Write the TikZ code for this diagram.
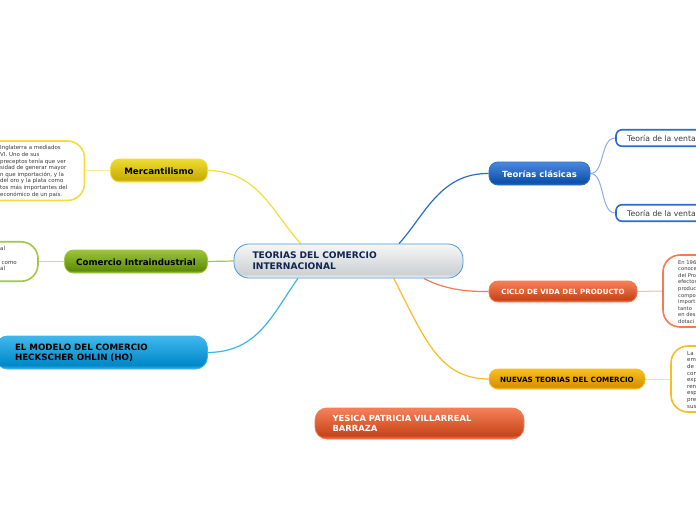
\documentclass[tikz,border=0pt]{standalone}
\usepackage{fontspec}
\setmainfont{DejaVu Sans}
\usetikzlibrary{backgrounds}
\definecolor{hubline}{HTML}{4A9AD8}
\definecolor{hubtop}{HTML}{F5F6F6}
\definecolor{hubbot}{HTML}{CDD1D3}
\definecolor{mercline}{HTML}{F0DD40}
\definecolor{merctop}{HTML}{EEDC30}
\definecolor{mercbot}{HTML}{C8AC08}
\definecolor{intraline}{HTML}{A0C840}
\definecolor{intratop}{HTML}{9CC43A}
\definecolor{intrabot}{HTML}{5F8C08}
\definecolor{holine}{HTML}{3CB4E8}
\definecolor{hotop}{HTML}{40B8EE}
\definecolor{hobot}{HTML}{0088C8}
\definecolor{claline}{HTML}{2A6CC8}
\definecolor{clatop}{HTML}{4A88E0}
\definecolor{clabot}{HTML}{0D50A8}
\definecolor{cicline}{HTML}{F87850}
\definecolor{cictop}{HTML}{F58058}
\definecolor{cicbot}{HTML}{C8441A}
\definecolor{nueline}{HTML}{FBBC20}
\definecolor{nuetop}{HTML}{F8C020}
\definecolor{nuebot}{HTML}{D89000}
\definecolor{hubtext}{HTML}{0F2550}
\definecolor{notetext}{HTML}{3A3A3A}
\newcommand{\barshade}[4]{\pgfdeclareverticalshading{#1}{100bp}{color(0bp)=(#4); color(25bp)=(#4); color(31bp)=(#3); color(68bp)=(#2!85!#3); color(75bp)=(#2); color(100bp)=(#2)}}
\barshade{hubshade}{hubtop}{hubbot}{hubtop}
\barshade{mercshade}{merctop}{mercbot}{mercline}
\barshade{intrashade}{intratop}{intrabot}{intraline}
\barshade{hoshade}{hotop}{hobot}{holine}
\barshade{clashade}{clatop}{clabot}{claline}
\barshade{cicshade}{cictop}{cicbot}{cicline}
\barshade{nueshade}{nuetop}{nuebot}{nueline}
\tikzset{
  topicbar/.style={rounded corners=9pt,line width=0.8pt,inner sep=0pt,font=\fontsize{8.7}{10}\selectfont\bfseries},
  onebar/.style={topicbar,text height=7.6pt,text depth=0pt},
  notebox/.style={rounded corners=17pt,line width=1.6pt,fill=white,inner sep=0pt},
  notetxt/.style={anchor=north west,inner sep=0pt,align=left,text=notetext,font=\fontsize{5.5}{6.6}\selectfont},
  leaftxt/.style={anchor=west,inner sep=0pt,text=notetext,font=\fontsize{7.7}{10}\selectfont},
  branch/.style={line width=1.2pt},
  twig/.style={line width=1pt}
}
\begin{document}
\begin{tikzpicture}[line cap=round,line join=round,x=1pt,y=-1pt]
\useasboundingbox (0,0) rectangle (696,520);
\clip (0,0) rectangle (696,520);
\node[topicbar,shading=hubshade,draw=hubline,minimum width=229pt,minimum height=34pt,rounded corners=15pt,text=hubtext,align=left,text width=192pt,font=\fontsize{9.1}{11}\selectfont\bfseries] (hub) at (348.5,261) {TEORIAS DEL COMERCIO\\INTERNACIONAL};
\node[onebar,shading=mercshade,draw=mercline,minimum width=97pt,minimum height=23pt] (merc) at (159,170.5) {Mercantilismo};
\node[onebar,shading=intrashade,draw=intraline,minimum width=143pt,minimum height=23pt] (intra) at (136,261.5) {Comercio Intraindustrial};
\node[topicbar,shading=hoshade,draw=holine,minimum width=212pt,minimum height=33pt,rounded corners=12pt,align=left,text width=173pt] (hecks) at (101.5,352.5) {EL MODELO DEL COMERCIO\\HECKSCHER OHLIN (HO)};
\node[onebar,shading=clashade,draw=claline,minimum width=101pt,minimum height=23pt,text=white,font=\fontsize{8.5}{10}\selectfont\bfseries] (clasicas) at (539.5,173.5) {Teorías clásicas};
\node[onebar,shading=cicshade,draw=cicline,minimum width=148pt,minimum height=21pt,text=white,font=\fontsize{7.1}{8}\selectfont\bfseries,text height=6.2pt] (ciclo) at (563,291.5) {CICLO DE VIDA DEL PRODUCTO};
\node[onebar,shading=nueshade,draw=nueline,minimum width=156pt,minimum height=20pt,font=\fontsize{7.2}{8}\selectfont\bfseries,text height=6.2pt] (nuevas) at (567,379) {NUEVAS TEORIAS DEL COMERCIO};
\node[topicbar,shading=cicshade,draw=cicline,minimum width=209pt,minimum height=31pt,rounded corners=12pt,text=white,align=left,text width=174pt,font=\fontsize{8.4}{10}\selectfont\bfseries] (autora) at (419.5,423.5) {YESICA PATRICIA VILLARREAL\\BARRAZA};
\node[notebox,draw=claline,minimum width=120pt,minimum height=16.5pt,rounded corners=6pt] (ventaA) at (676,138) {};
\node[leaftxt] (ventaAtxt) at (627,138) {Teoría de la venta};
\node[notebox,draw=claline,minimum width=120pt,minimum height=16.5pt,rounded corners=6pt] (ventaB) at (676,213) {};
\node[leaftxt] (ventaBtxt) at (627,213) {Teoría de la venta};
\node[notebox,draw=mercline,minimum width=144.5pt,minimum height=59.5pt] (mercbox) at (12.25,170.75) {};
\node[notetxt] (merctxt) at (0,145.5) {Inglaterra a mediados\\VI. Uno de sus\\preceptos tenía que ver\\sidad de generar mayor\\n que importación, y la\\del oro y la plata como\\tos más importantes del\\ económico de un país.};
\node[notebox,draw=intraline,minimum width=98pt,minimum height=39.5pt] (intrabox) at (-11,261.5) {};
\node[notetxt] (intratxt) at (0,246.5) {al\\[6.6pt]\hspace*{1.5pt}como\\al};
\node[notebox,draw=cicline,minimum width=120pt,minimum height=72pt] (ciclobox) at (723,291) {};
\node[notetxt,font=\fontsize{5.2}{6.6}\selectfont] (ciclotxt) at (678,260) {En 196\\conoce\\del Pro\\efectos\\produc\\compo\\import\\tanto\\en des\\dotaci};
\node[notebox,draw=nueline,minimum width=120pt,minimum height=66pt] (nuevasbox) at (731,379) {};
\node[notetxt] (nuevastxt) at (687,351) {La\\em\\de\\con\\exp\\ren\\esp\\pre\\sus};
\begin{scope}[on background layer]
\draw[branch,color=mercline] (merc.east) .. controls (258,171) and (272,212) .. (hub.160.7);
\draw[branch,color=intraline] (intra.east) -- (hub.west);
\draw[branch,color=holine] (hecks.east) .. controls (258,352) and (272,315) .. (hub.199.3);
\draw[branch,color=claline] (clasicas.west) .. controls (440,173) and (425,215) .. (hub.19.3);
\draw[branch,color=cicline] (ciclo.west) .. controls (460,292) and (440,287) .. (hub.-13.1);
\draw[branch,color=nueline] (nuevas.west) .. controls (440,379) and (425,340) .. (hub.-21.3);
\draw[twig,color=mercline!55] (merc.west) -- (mercbox.east);
\draw[twig,color=intraline!60] (intra.west) -- (intrabox.east);
\draw[twig,color=cicline!50] (ciclo.east) -- (ciclobox.west);
\draw[twig,color=nueline!50] (nuevas.east) -- (nuevasbox.west);
\draw[twig,color=claline!55] (clasicas.east) .. controls (605,173.5) and (600,138) .. (ventaA.west);
\draw[twig,color=claline!55] (clasicas.east) .. controls (605,173.5) and (600,213) .. (ventaB.west);
\end{scope}
\end{tikzpicture}
\end{document}
